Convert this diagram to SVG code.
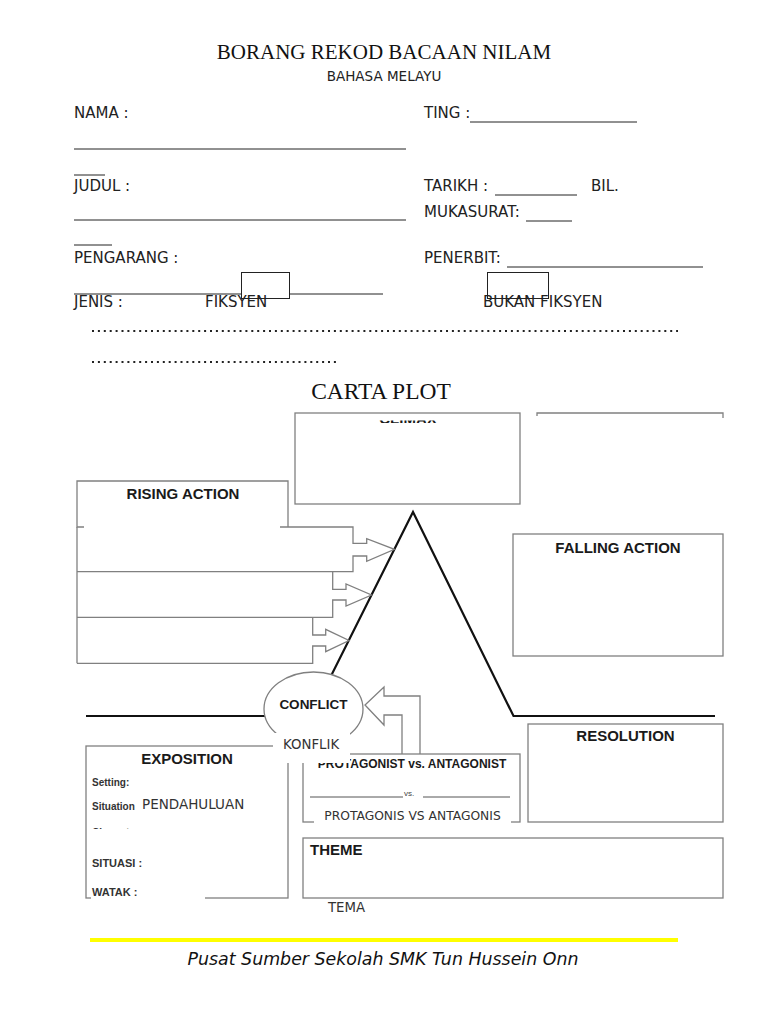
<svg xmlns="http://www.w3.org/2000/svg" width="768" height="1024" viewBox="0 0 768 1024">
<style>
.hd{font-family:"DejaVu Sans","Liberation Sans",sans-serif;font-size:15px;fill:#222}
.ln{stroke:#222;stroke-width:1;fill:none}
.box{fill:#fff;stroke:#808080;stroke-width:1.3}
.gl{fill:none;stroke:#808080;stroke-width:1.3}
.lb{font-family:"Liberation Sans",Arial,sans-serif;font-weight:bold;font-size:15px;fill:#1a1a1a}
.sm{font-family:"Liberation Sans",Arial,sans-serif;font-weight:bold;font-size:10px;fill:#333}
.dv{font-family:"DejaVu Sans",sans-serif;font-size:13.5px;fill:#333}
.tri{fill:none;stroke:#111;stroke-width:2.2;stroke-linejoin:miter}
.dots{stroke:#222;stroke-width:2;stroke-dasharray:2 3.9}
.cb{fill:none;stroke:#222;stroke-width:1}
</style>
<defs>
<clipPath id="clipClimax"><rect x="300" y="420.5" width="200" height="2.5"/></clipPath>
</defs>
<rect width="768" height="1024" fill="#fff"/>

<g id="header">
<text x="384" y="59" text-anchor="middle" font-family="Liberation Serif,serif" font-size="21" fill="#111">BORANG REKOD BACAAN NILAM</text>
<text x="384" y="81" text-anchor="middle" class="hd" style="font-size:13.5px">BAHASA MELAYU</text>
<text x="74" y="118" class="hd">NAMA :</text>
<text x="424" y="118" class="hd">TING :</text>
<line x1="470" y1="122" x2="637" y2="122" class="ln"/>
<line x1="74" y1="149" x2="406" y2="149" class="ln"/>
<line x1="74" y1="175" x2="105" y2="175" class="ln"/>
<text x="74" y="191" class="hd">JUDUL :</text>
<text x="424" y="191" class="hd">TARIKH :</text>
<line x1="495" y1="195" x2="577" y2="195" class="ln"/>
<text x="591" y="191" class="hd">BIL.</text>
<text x="424" y="217" class="hd">MUKASURAT:</text>
<line x1="526" y1="221" x2="572" y2="221" class="ln"/>
<line x1="74" y1="220" x2="406" y2="220" class="ln"/>
<line x1="74" y1="245" x2="112" y2="245" class="ln"/>
<text x="74" y="263" class="hd">PENGARANG :</text>
<text x="424" y="263" class="hd">PENERBIT:</text>
<line x1="507" y1="267" x2="703" y2="267" class="ln"/>
<line x1="74" y1="294" x2="383" y2="294" class="ln"/>
<rect x="241.5" y="272.5" width="48" height="26" fill="#fff"/>
<rect x="487.5" y="272.5" width="61" height="26" fill="#fff"/>
<text x="74" y="307" class="hd">JENIS :</text>
<text x="205" y="307" class="hd">FIKSYEN</text>
<text x="483" y="307" class="hd">BUKAN FIKSYEN</text>
<rect x="241.5" y="272.5" width="48" height="26" class="cb"/>
<rect x="487.5" y="272.5" width="61" height="26" class="cb"/>
<line x1="92" y1="331" x2="678" y2="331" class="dots"/>
<line x1="92" y1="362" x2="338" y2="362" class="dots"/>
<text x="381" y="399" text-anchor="middle" font-family="Liberation Serif,serif" font-size="23.5" fill="#111">CARTA PLOT</text>
</g>

<g id="connectors">
<path class="tri" d="M86 716 H311 L413 512 L513.5 716 H715"/>
<path class="gl" d="M280 527 H353 V543.3 H366.7 V538.7 L394.5 549.3 L366.7 561.3 V556 H353 V571.7 H77"/>
<path class="gl" d="M332.7 571.7 V589.3 H346 V584 L371.5 595 L346 606 V600 H332.7 V617.3 H77"/>
<path class="gl" d="M312.7 617.3 V635 H325.7 V629.3 L349 640.5 L325.7 651.7 V646 H312.7 V663.3 H77"/>
<path class="gl" d="M420 754 V696 H384 V687 L365 705 L384 725 V715 H402 V754"/>
</g>

<g id="climax">
<rect class="box" x="295" y="413" width="225" height="91"/>
<text x="408" y="424" text-anchor="middle" class="lb" clip-path="url(#clipClimax)">CLIMAX</text>
</g>

<g id="topright">
<path class="gl" d="M537 416 V413 H723 V418"/>
</g>

<g id="rising-action">
<path class="gl" d="M84 527 H77 V481 H288 V527"/>
<line x1="77" y1="527" x2="77" y2="663.3" stroke="#808080" stroke-width="1.3"/>
<text x="183" y="499" text-anchor="middle" class="lb">RISING ACTION</text>
</g>

<g id="falling-action">
<rect class="box" x="513" y="534" width="210" height="122"/>
<text x="618" y="553" text-anchor="middle" class="lb">FALLING ACTION</text>
</g>

<g id="exposition">
<rect class="box" x="86" y="746" width="202" height="152"/>
<text x="187" y="764" text-anchor="middle" class="lb">EXPOSITION</text>
<text x="92" y="786" class="sm">Setting:</text>
<text x="92" y="810" class="sm">Situation</text>
<text x="92" y="835.5" class="sm">Characters:</text>
<rect x="91" y="829" width="114" height="76" fill="#fff"/>
<text x="142" y="809" class="dv">PENDAHULUAN</text>
<text x="92" y="867" class="sm" style="font-size:11px">SITUASI :</text>
<text x="92" y="896" class="sm" style="font-size:11px">WATAK :</text>
</g>

<g id="protagonist">
<rect class="box" x="303" y="754" width="217" height="68"/>
<text x="412" y="768" text-anchor="middle" class="lb" style="font-size:12px">PROTAGONIST vs. ANTAGONIST</text>
<line x1="310" y1="797" x2="403" y2="797" stroke="#555" stroke-width="1"/>
<text x="404" y="796" font-family="Liberation Sans,Arial,sans-serif" font-size="8" fill="#444">vs.</text>
<line x1="423" y1="797" x2="510" y2="797" stroke="#555" stroke-width="1"/>
<rect x="314" y="806" width="197" height="31.5" fill="#fff"/>
<text x="412.5" y="820" text-anchor="middle" class="dv" style="font-size:12.3px">PROTAGONIS VS ANTAGONIS</text>
</g>

<g id="conflict">
<ellipse cx="313.5" cy="709" rx="49.5" ry="37" fill="#fff" stroke="#808080" stroke-width="1.3"/>
<text x="313.5" y="709" text-anchor="middle" class="lb" style="font-size:13.5px">CONFLICT</text>
<rect x="273" y="733" width="77" height="30" fill="#fff"/>
<text x="283" y="749" class="dv" style="font-size:13.3px">KONFLIK</text>
</g>

<g id="resolution">
<rect class="box" x="528" y="724" width="195" height="98"/>
<text x="625.5" y="741" text-anchor="middle" class="lb">RESOLUTION</text>
</g>

<g id="theme">
<rect class="box" x="303" y="838" width="420" height="60"/>
<text x="310" y="855" class="lb">THEME</text>
<text x="328" y="912" class="dv" style="font-size:13.3px">TEMA</text>
</g>

<g id="footer">
<line x1="90" y1="940" x2="678" y2="940" stroke="#ffff00" stroke-width="4"/>
<text x="383" y="965" text-anchor="middle" font-family="DejaVu Sans,sans-serif" font-style="italic" font-size="17.4" fill="#111">Pusat Sumber Sekolah SMK Tun Hussein Onn</text>
</g>
</svg>
